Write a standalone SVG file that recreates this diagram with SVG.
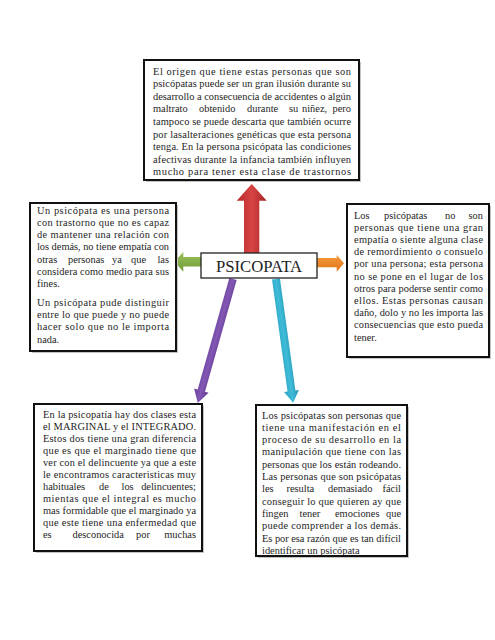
<svg xmlns="http://www.w3.org/2000/svg" width="495" height="640" viewBox="0 0 495 640">
<style>
.box{fill:#ffffff;stroke:#111111;stroke-width:2}
.shadow{fill:#c4c4c4}
.t{font-family:"Liberation Serif","Times New Roman",serif;font-size:10.4px;fill:#1e1e1e}
.e{text-anchor:end}
.title{font-family:"Liberation Serif","Times New Roman",serif;font-size:16px;fill:#222222}
</style>
<defs>
<linearGradient id="gRed" x1="0" y1="0" x2="1" y2="0">
<stop offset="0" stop-color="#b52c2c"/><stop offset="0.5" stop-color="#d94444"/><stop offset="1" stop-color="#a82626"/>
</linearGradient>
<linearGradient id="gGreen" x1="0" y1="0" x2="0" y2="1">
<stop offset="0" stop-color="#9cc45e"/><stop offset="1" stop-color="#6f9a35"/>
</linearGradient>
<linearGradient id="gOrange" x1="0" y1="0" x2="0" y2="1">
<stop offset="0" stop-color="#f39a3c"/><stop offset="1" stop-color="#e07518"/>
</linearGradient>
<linearGradient id="gPurple" x1="0" y1="0" x2="1" y2="0">
<stop offset="0" stop-color="#6a3f9c"/><stop offset="0.5" stop-color="#8358b5"/><stop offset="1" stop-color="#62388f"/>
</linearGradient>
<linearGradient id="gCyan" x1="0" y1="0" x2="1" y2="0">
<stop offset="0" stop-color="#2aa0c2"/><stop offset="0.5" stop-color="#3fbcd8"/><stop offset="1" stop-color="#2494b5"/>
</linearGradient>
<clipPath id="clipBR"><rect x="256" y="405" width="151" height="150"/></clipPath>
</defs>

<g id="connectors">
<polygon fill="url(#gRed)" points="244,254 244,200.7 236.7,200.7 251.7,184 266.7,200.7 259.3,200.7 259.3,254"/>
<polygon fill="url(#gGreen)" points="202,257 183.3,257 183.3,251.7 174.7,261.7 183.3,271.7 183.3,266.5 202,266.5"/>
<polygon fill="url(#gOrange)" points="316,258 336.7,258 336.7,255 344,263.3 336.7,271.7 336.7,267.3 316,267.3"/>
<polygon fill="url(#gPurple)" transform="translate(233,279) rotate(15.85)" points="-3.8,0 3.8,0 3.8,116 7.5,116 0,129 -7.5,116 -3.8,116"/>
<polygon fill="url(#gCyan)" transform="translate(276,279) rotate(-7.87)" points="-4,0 4,0 4,113 7.5,113 0,125 -7.5,113 -4,113"/>
</g>

<g id="top-box">
<rect class="shadow" x="146" y="62" width="215" height="120"/>
<rect class="box" x="144" y="60" width="215" height="120"/>
<text class="t" x="153" y="74.5" textLength="198" lengthAdjust="spacing">El origen que tiene estas personas que son</text>
<text class="t" x="153" y="87.1" textLength="198" lengthAdjust="spacing">psicópatas puede ser un gran ilusión durante su</text>
<text class="t" x="153" y="99.7" textLength="198" lengthAdjust="spacing">desarrollo a consecuencia de accidentes o algún</text>
<text class="t" x="153" y="112.3">maltrato</text>
<text class="t" x="199" y="112.3">obtenido</text>
<text class="t" x="247" y="112.3">durante</text>
<text class="t" x="289" y="112.3">su</text>
<text class="t" x="302" y="112.3">niñez,</text>
<text class="t e" x="351" y="112.3">pero</text>
<text class="t" x="153" y="124.9" textLength="198" lengthAdjust="spacing">tampoco se puede descarta que también ocurre</text>
<text class="t" x="153" y="137.5" textLength="198" lengthAdjust="spacing">por lasalteraciones genéticas que esta persona</text>
<text class="t" x="153" y="150.1" textLength="198" lengthAdjust="spacing">tenga.  En la persona psicópata las condiciones</text>
<text class="t" x="153" y="162.7" textLength="198" lengthAdjust="spacing">afectivas durante la infancia también influyen</text>
<text class="t" x="153" y="175.3" textLength="198" lengthAdjust="spacing">mucho para tener esta clase de trastornos</text>
</g>

<g id="left-box">
<rect class="shadow" x="32" y="205" width="146" height="148"/>
<rect class="box" x="30" y="203" width="146" height="148"/>
<text class="t" x="37" y="213.5" textLength="132" lengthAdjust="spacing">Un psicópata es una persona</text>
<text class="t" x="37" y="225.8" textLength="132" lengthAdjust="spacing">con trastorno que no es capaz</text>
<text class="t" x="37" y="238.1" textLength="132" lengthAdjust="spacing">de mantener una relación con</text>
<text class="t" x="37" y="250.4" textLength="132" lengthAdjust="spacing">los demás, no tiene empatía con</text>
<text class="t" x="37" y="262.7">otras</text>
<text class="t" x="68" y="262.7">personas</text>
<text class="t" x="112" y="262.7">ya</text>
<text class="t" x="131" y="262.7">que</text>
<text class="t e" x="169" y="262.7">las</text>
<text class="t" x="37" y="275" textLength="132" lengthAdjust="spacing">considera como medio para sus</text>
<text class="t" x="37" y="287.3">fines.</text>
<text class="t" x="37" y="305.6" textLength="132" lengthAdjust="spacing">Un psicópata  pude distinguir</text>
<text class="t" x="37" y="317.9" textLength="132" lengthAdjust="spacing">entre lo que puede y no puede</text>
<text class="t" x="37" y="330.2" textLength="132" lengthAdjust="spacing">hacer solo que no le importa</text>
<text class="t" x="37" y="342.5">nada.</text>
</g>

<g id="right-box">
<rect class="shadow" x="349" y="206" width="142" height="153"/>
<rect class="box" x="347" y="204" width="142" height="153"/>
<text class="t" x="354" y="218.5">Los</text>
<text class="t" x="384" y="218.5">psicópatas</text>
<text class="t" x="445" y="218.5">no</text>
<text class="t e" x="483" y="218.5">son</text>
<text class="t" x="354" y="230.7" textLength="129" lengthAdjust="spacing">personas que tiene una gran</text>
<text class="t" x="354" y="242.9" textLength="129" lengthAdjust="spacing">empatía  o siente alguna clase</text>
<text class="t" x="354" y="255.1" textLength="129" lengthAdjust="spacing">de remordimiento o consuelo</text>
<text class="t" x="354" y="267.3" textLength="129" lengthAdjust="spacing">por una persona; esta persona</text>
<text class="t" x="354" y="279.5" textLength="129" lengthAdjust="spacing">no se pone en el lugar de los</text>
<text class="t" x="354" y="291.7" textLength="129" lengthAdjust="spacing">otros para poderse sentir como</text>
<text class="t" x="354" y="303.9" textLength="129" lengthAdjust="spacing">ellos. Estas personas causan</text>
<text class="t" x="354" y="316.1" textLength="129" lengthAdjust="spacing">daño, dolo y no les importa las</text>
<text class="t" x="354" y="328.3" textLength="129" lengthAdjust="spacing">consecuencias que esto pueda</text>
<text class="t" x="354" y="340.5">tener.</text>
</g>

<g id="bottom-left-box">
<rect class="shadow" x="36" y="406" width="168" height="147"/>
<rect class="box" x="34" y="404" width="168" height="147"/>
<text class="t" x="43" y="417.5" textLength="153" lengthAdjust="spacing">En la psicopatía hay dos clases  esta</text>
<text class="t" x="43" y="429.5" textLength="153" lengthAdjust="spacing">el MARGINAL y el INTEGRADO.</text>
<text class="t" x="43" y="441.5" textLength="153" lengthAdjust="spacing">Estos dos tiene una gran diferencia</text>
<text class="t" x="43" y="453.5" textLength="153" lengthAdjust="spacing">que es que el marginado tiene que</text>
<text class="t" x="43" y="465.5" textLength="153" lengthAdjust="spacing">ver con el delincuente ya que a este</text>
<text class="t" x="43" y="477.5" textLength="153" lengthAdjust="spacing">le encontramos caracteristicas muy</text>
<text class="t" x="43" y="489.5">habituales</text>
<text class="t" x="99" y="489.5">de</text>
<text class="t" x="121.5" y="489.5">los</text>
<text class="t e" x="196" y="489.5">delincuentes;</text>
<text class="t" x="43" y="501.5" textLength="153" lengthAdjust="spacing">mientas que el integral es mucho</text>
<text class="t" x="43" y="513.5" textLength="153" lengthAdjust="spacing">mas formidable que el marginado ya</text>
<text class="t" x="43" y="525.5" textLength="153" lengthAdjust="spacing">que este tiene una enfermedad que</text>
<text class="t" x="43" y="537.5">es</text>
<text class="t" x="72.5" y="537.5">desconocida</text>
<text class="t" x="136" y="537.5">por</text>
<text class="t e" x="196" y="537.5">muchas</text>
</g>

<g id="bottom-right-box">
<rect class="shadow" x="258" y="407" width="151" height="151"/>
<rect class="box" x="256" y="405" width="151" height="151"/>
<g clip-path="url(#clipBR)">
<text class="t" x="262" y="418.5" textLength="139" lengthAdjust="spacing">Los psicópatas son personas que</text>
<text class="t" x="262" y="430.8" textLength="139" lengthAdjust="spacing">tiene una manifestación en el</text>
<text class="t" x="262" y="443.1" textLength="139" lengthAdjust="spacing">proceso de su desarrollo en la</text>
<text class="t" x="262" y="455.4" textLength="139" lengthAdjust="spacing">manipulación que tiene con las</text>
<text class="t" x="262" y="467.7" textLength="139" lengthAdjust="spacing">personas que los están rodeando.</text>
<text class="t" x="262" y="480" textLength="139" lengthAdjust="spacing">Las personas que son psicópatas</text>
<text class="t" x="262" y="492.3">les</text>
<text class="t" x="286.5" y="492.3">resulta</text>
<text class="t" x="328" y="492.3">demasiado</text>
<text class="t e" x="401" y="492.3">fácil</text>
<text class="t" x="262" y="504.6" textLength="139" lengthAdjust="spacing">conseguir lo que quieren ay que</text>
<text class="t" x="262" y="516.9">fingen</text>
<text class="t" x="299.5" y="516.9">tener</text>
<text class="t" x="335" y="516.9">emociones</text>
<text class="t e" x="401" y="516.9">que</text>
<text class="t" x="262" y="529.2" textLength="139" lengthAdjust="spacing">puede comprender a los demás.</text>
<text class="t" x="262" y="541.5" textLength="139" lengthAdjust="spacing">Es por esa razón que es tan difícil</text>
<text class="t" x="262" y="553.8">identificar un psicópata</text>
</g>
<rect x="256" y="405" width="151" height="151" fill="none" stroke="#111111" stroke-width="2"/>
</g>

<g id="center-node">
<rect x="201" y="253" width="116" height="25" fill="#ffffff" stroke="#222222" stroke-width="1.3"/>
<text class="title" x="216" y="271.5" textLength="86" lengthAdjust="spacingAndGlyphs">PSICOPATA</text>
</g>
</svg>
